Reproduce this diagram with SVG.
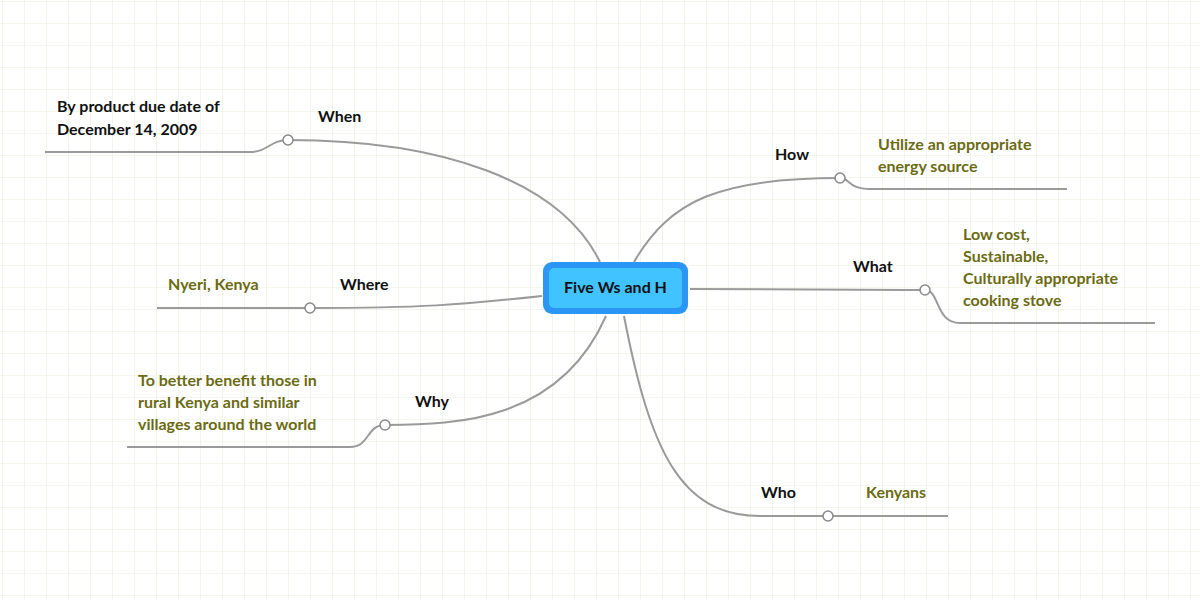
<svg xmlns="http://www.w3.org/2000/svg" width="1200" height="600" viewBox="0 0 1200 600">
<defs>
<pattern id="grid" x="2" y="1" width="22" height="22" patternUnits="userSpaceOnUse">
<path d="M0 0V22M0 0H22" fill="none" stroke="#e6eedb" stroke-width="1.2"/>
</pattern>
<style>
.c{fill:none;stroke:#9a9a9a;stroke-width:2}
.k{fill:#fff;stroke:#8a8a8a;stroke-width:1.5}
.t{font-family:Lato,"Liberation Sans",sans-serif;font-weight:bold;font-size:16px}
.b{fill:#111}
.o{fill:#6b6b12}
</style>
</defs>
<rect width="1200" height="600" fill="#fff"/>
<rect width="1200" height="600" fill="url(#grid)"/>
<g id="connectors">
<path class="c" d="M600 262C560 180 440 140 288 140C270 140 268 152 250 152H45"/>
<path class="c" d="M542 296C460 305 420 308 310 308H157"/>
<path class="c" d="M606 316C560 420 460 425 385 425C366 425 370 447 350 447H127"/>
<path class="c" d="M634 262C670 200 720 178 840 178C850 178 848 189 870 189H1067"/>
<path class="c" d="M690 289C800 290 860 290 925 290C940 290 935 323 960 323H1155"/>
<path class="c" d="M624 316C650 450 680 516 760 516H948"/>
</g>
<g id="center">
<rect x="543" y="262" width="145" height="52" rx="9" fill="#2a97f7"/>
<rect x="549" y="268" width="133" height="40" rx="5" fill="#40c3ff"/>
<text class="t b" x="615.5" y="293" text-anchor="middle">Five Ws and H</text>
</g>
<g id="when"><circle class="k" cx="288" cy="140" r="5"/><text class="t b" x="318" y="122">When</text>
<text class="t b" x="57" y="112">By product due date of</text><text class="t b" x="57" y="135">December 14, 2009</text></g>
<g id="where"><circle class="k" cx="310" cy="308" r="5"/><text class="t b" x="340" y="290">Where</text>
<text class="t o" x="168" y="290">Nyeri, Kenya</text></g>
<g id="why"><circle class="k" cx="385" cy="425" r="5"/><text class="t b" x="415" y="407">Why</text>
<text class="t o" x="138" y="386">To better benefit those in</text><text class="t o" x="138" y="408">rural Kenya and similar</text><text class="t o" x="138" y="430">villages around the world</text></g>
<g id="how"><circle class="k" cx="840" cy="178" r="5"/><text class="t b" x="775" y="160">How</text>
<text class="t o" x="878" y="150">Utilize an appropriate</text><text class="t o" x="878" y="172">energy source</text></g>
<g id="what"><circle class="k" cx="925" cy="290" r="5"/><text class="t b" x="853" y="272">What</text>
<text class="t o" x="963" y="240">Low cost,</text><text class="t o" x="963" y="262">Sustainable,</text><text class="t o" x="963" y="284">Culturally appropriate</text><text class="t o" x="963" y="306">cooking stove</text></g>
<g id="who"><circle class="k" cx="828" cy="516" r="5"/><text class="t b" x="761" y="498">Who</text>
<text class="t o" x="866" y="498">Kenyans</text></g>
</svg>
